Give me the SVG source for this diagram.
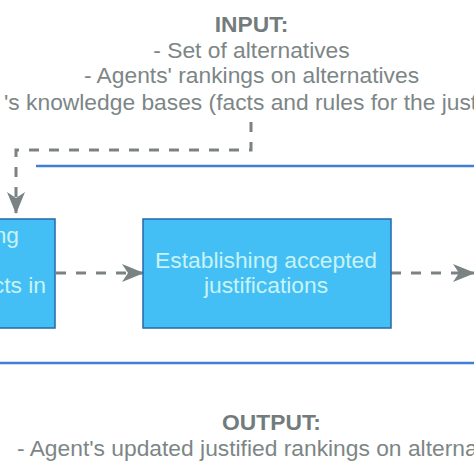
<svg xmlns="http://www.w3.org/2000/svg" width="474" height="474" viewBox="0 0 474 474">
<style>
.lbl{font-family:"Liberation Sans",Arial,sans-serif;font-size:22.8px;fill:#7d8686;}
.hd{font-weight:bold;fill:#737c7c;}
.box{fill:#44bff6;stroke:#2468a8;stroke-width:1.5;}
.bt{font-family:"Liberation Sans",Arial,sans-serif;font-size:22.8px;fill:#c8f3f4;}
.edge{fill:none;stroke:#7a8283;stroke-width:3;stroke-dasharray:10 10;}
.rule{stroke:#3f80d6;stroke-width:2.5;fill:none;}
</style>
<defs>
<marker id="arr" viewBox="0 0 22 18" markerWidth="22" markerHeight="18" refX="21" refY="9" orient="auto" markerUnits="userSpaceOnUse">
<path d="M0,0 L22,9 L0,18 L6,9 Z" fill="#7a8283" stroke="none"/>
</marker>
</defs>
<rect width="474" height="474" fill="#ffffff"/>
<g id="input">
<text class="lbl hd" x="251.5" y="32" text-anchor="middle">INPUT:</text>
<text class="lbl" x="251.5" y="58" text-anchor="middle">- Set of alternatives</text>
<text class="lbl" x="251.5" y="83" text-anchor="middle">- Agents' rankings on alternatives</text>
<text class="lbl" x="4" y="110">'s knowledge bases (facts and rules for the just</text>
</g>
<g id="container">
<line class="rule" x1="36" y1="166" x2="474" y2="166"/>
<line class="rule" x1="0" y1="363" x2="474" y2="363"/>
</g>
<g id="connectors">
<path class="edge" d="M251,122 V150 H16 V213" marker-end="url(#arr)"/>
<path class="edge" d="M56,273 H143" marker-end="url(#arr)"/>
<path class="edge" d="M391,273 H474" marker-end="url(#arr)"/>
</g>
<g id="node-left">
<rect class="box" x="-20" y="219" width="75" height="109"/>
<text class="bt" x="19" y="243" text-anchor="end">ng</text>
<text class="bt" x="46" y="293" text-anchor="end">cts in</text>
</g>
<g id="node-establishing">
<rect class="box" x="143" y="219" width="248" height="109"/>
<text class="bt" x="266" y="268" text-anchor="middle">Establishing accepted</text>
<text class="bt" x="266" y="293" text-anchor="middle">justifications</text>
</g>
<g id="output">
<text class="lbl hd" x="271.5" y="430" text-anchor="middle">OUTPUT:</text>
<text class="lbl" x="17" y="456">- Agent's updated justified rankings on alterna</text>
</g>
</svg>
